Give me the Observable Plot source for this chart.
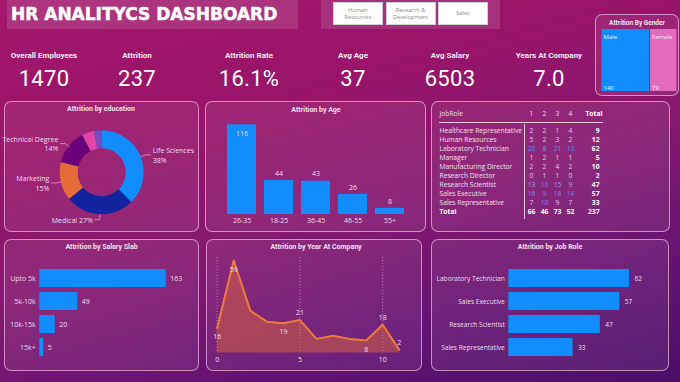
<!DOCTYPE html>
<html>
<head>
<meta charset="utf-8">
<script src="https://cdn.jsdelivr.net/npm/d3@7"></script>
<script src="https://cdn.jsdelivr.net/npm/@observablehq/plot@0.6"></script>
<style>
html,body{margin:0;padding:0;}
body{width:680px;height:382px;overflow:hidden;}
#dash{position:relative;width:680px;height:382px;overflow:hidden;
  background:linear-gradient(165deg,#a4166b 0%,#98146a 30%,#841870 55%,#651372 78%,#4a0e69 100%);
  font-family:Roboto,sans-serif;color:#fff;}
.abs{position:absolute;}
.panel{position:absolute;box-sizing:border-box;border:1px solid rgba(255,214,238,0.6);border-radius:7px;background:rgba(255,255,255,0.07);}
.ptitle{position:absolute;font-weight:bold;font-size:7px;font-family:Roboto,sans-serif;color:#f6e0ee;transform:translate(-50%,-50%);white-space:nowrap;}
.kl{position:absolute;font-weight:bold;font-size:8px;font-family:Roboto,sans-serif;color:#fbe9f4;transform:translate(-50%,-50%);white-space:nowrap;}
.kv{position:absolute;font-size:22px;font-family:Roboto,sans-serif;color:#fff;transform:translate(-50%,-50%);white-space:nowrap;letter-spacing:0.3px;}
.btn{position:absolute;box-sizing:border-box;background:#fff;border:1px solid #cfcfcf;color:#8a8a8a;font-family:'Open Sans',sans-serif;font-size:5.6px;line-height:7px;display:flex;align-items:center;justify-content:center;text-align:center;white-space:pre-line;}
.chart{position:absolute;}
.chart svg{display:block;overflow:visible;background:transparent !important;max-width:none !important;}
.hline{position:absolute;background:rgba(255,255,255,0.75);}
</style>
</head>
<body>
<div id="dash"></div>
<script>
// ---------------- DATA ----------------
const dashboardTitle = "HR ANALITYCS DASHBOARD";
const kpiLabels = ["Overall Employees", "Attrition", "Attrition Rate", "Avg Age", "Avg Salary", "Years At Company"];
const kpiValues = ["1470", "237", "16.1%", "37", "6503", "7.0"];
const departments = ["Human Resources", "Research & Development", "Sales"];

const genders = ["Male", "Female"];
const genderAttrition = [140, 79];

const eduFields = ["Life Sciences", "Medical", "Marketing", "Technical Degree", "Other", "Human Resources"];
const eduAttrition = [89, 63, 35, 32, 11, 7];

const ageGroups = ["26-35", "18-25", "36-45", "46-55", "55+"];
const ageAttrition = [116, 44, 43, 26, 8];

const jobRoles = ["Healthcare Representative", "Human Resources", "Laboratory Technician", "Manager",
  "Manufacturing Director", "Research Director", "Research Scientist", "Sales Executive", "Sales Representative"];
const satisfactionLevels = ["1", "2", "3", "4"];
const satisfaction1 = [2, 5, 20, 1, 2, 0, 13, 16, 7];
const satisfaction2 = [2, 2, 8, 2, 2, 1, 10, 9, 10];
const satisfaction3 = [1, 3, 21, 1, 4, 1, 15, 18, 9];
const satisfaction4 = [4, 2, 13, 1, 2, 0, 9, 14, 7];

const salarySlabs = ["Upto 5k", "5k-10k", "10k-15k", "15k+"];
const salaryAttrition = [163, 49, 20, 5];

const yearsAtCompany = [0, 1, 2, 3, 4, 5, 6, 7, 8, 9, 10, 11];
const yearAttrition = [16, 59, 27, 20, 19, 21, 9, 11, 9, 8, 18, 2];
const yearTicks = [0, 5, 10];
const yearsLabelledBelow = [0, 1, 4, 9];
const yearsLabelledAbove = [5, 10, 11];

const topJobRoles = ["Laboratory Technician", "Sales Executive", "Research Scientist", "Sales Representative"];
const topJobRoleAttrition = [62, 57, 47, 33];

// ---------------- STYLE ----------------
const BLUE = "#118DFF";
const eduColors = ["#118DFF", "#12239E", "#E66C37", "#6B007B", "#E044A7", "#744EC2"];
const genderColors = ["#118DFF", "#E36BBE"];
const labelColor = "#f2dfec";
const baseStyle = {background: "transparent", overflow: "visible", fontFamily: "'Open Sans', sans-serif", fontSize: "7px", color: labelColor};

const dash = document.getElementById("dash");
function el(cls, left, top, w, h, text) {
  const d = document.createElement("div");
  d.className = cls;
  d.style.left = left + "px"; d.style.top = top + "px";
  if (w != null) d.style.width = w + "px";
  if (h != null) d.style.height = h + "px";
  if (text != null) d.textContent = text;
  dash.appendChild(d);
  return d;
}
function chart(svg, left, top) {
  const d = el("chart", left, top);
  d.appendChild(svg);
  return d;
}

// ---------------- HEADER ----------------
const tbox = el("abs", 7, 0, 291, 29);
tbox.style.background = "rgba(255,255,255,0.13)";
const tt = el("abs", 11, 14, null, null, dashboardTitle);
Object.assign(tt.style, {fontFamily: "'DejaVu Sans',sans-serif", fontWeight: "bold", fontSize: "17px", transform: "translateY(-50%)", whiteSpace: "nowrap", color: "#fff", WebkitTextStroke: "0.5px #fff"});

const sbox = el("abs", 321, 0, 179, 29);
sbox.style.background = "rgba(255,255,255,0.12)";
departments.forEach((dname, i) => {
  el("btn", 333 + i * 52.5, 2, 50, 23, dname.includes(" ") ? dname.replace(/ (?=\S+$)/, "\n") : dname);
});

// KPIs
const kpiX = [44, 137, 249, 353, 450, 549];
kpiLabels.forEach((l, i) => {
  el("kl", kpiX[i], 55, null, null, l);
  el("kv", kpiX[i], 77.5, null, null, kpiValues[i]);
});

// Gender panel
el("panel", 595, 14, 84, 82);
el("ptitle", 637, 23, null, null, "Attrition By Gender").style.fontSize = "6.5px";
{
  const data = genders.map((g, i) => ({gender: g, value: genderAttrition[i]}));
  const total = d3.sum(genderAttrition);
  const svg = Plot.plot({
    width: 78, height: 64, marginTop: 1, marginBottom: 1, marginLeft: 0, marginRight: 0,
    style: {...baseStyle, fontSize: "6px"},
    x: {domain: [0, total], range: [1, 77], axis: null},
    color: {domain: genders, range: genderColors},
    marks: [
      Plot.barX(data, {x: "value", fill: "gender", insetLeft: 0.5, insetRight: 0.5}),
      Plot.text(data, Plot.stackX1({x: "value", text: "gender", frameAnchor: "top", lineAnchor: "top", textAnchor: "start", dx: 2, dy: 5, fill: "#eef4ff"})),
      Plot.text(data, Plot.stackX1({x: "value", text: d => String(d.value), frameAnchor: "bottom", lineAnchor: "bottom", textAnchor: "start", dx: 2, dy: -2, fill: "#eef4ff"}))
    ]
  });
  chart(svg, 600, 28);
}

// ---------------- PANELS ----------------
const panels = [
  [4, 101, 195, 131, "Attrition by education", 101, 109],
  [205, 101, 221, 131, "Attrition by Age", 316, 109.5],
  [431, 101, 239, 131, null],
  [4, 239, 195, 132, "Attrition by Salary Slab", 101.5, 247.3],
  [206, 239, 216, 132, "Attrition by Year At Company", 316, 247.3],
  [431, 239, 238, 132, "Attrition by Job Role", 550, 247.3]
];
panels.forEach(p => {
  el("panel", p[0], p[1], p[2], p[3]);
  if (p[4]) el("ptitle", p[5], p[6], null, null, p[4]);
});

// ---- Donut: Attrition by education ----
{
  const data = eduFields.map((f, i) => ({field: f, value: eduAttrition[i], color: eduColors[i]}));
  const total = d3.sum(eduAttrition);
  const arcs = d3.pie().value(d => d.value).sort(null)(data);
  const R0 = 24, R1 = 42;
  const arcGen = d3.arc().innerRadius(R0).outerRadius(R1);
  const leaders = [], labels = [];
  arcs.filter(a => a.data.value / total >= 0.1).forEach(a => {
    const mid = (a.startAngle + a.endAngle) / 2;
    const sx = Math.sin(mid), sy = -Math.cos(mid);
    const side = sx >= 0 ? 1 : -1;
    const ex = 47 * sx, ey = 47 * sy;
    const pct = Math.round(a.data.value / total * 100) + "%";
    const bottom = sy > 0.9;
    leaders.push({field: a.data.field, x: R1 * sx, y: R1 * sy});
    leaders.push({field: a.data.field, x: ex, y: ey});
    leaders.push({field: a.data.field, x: ex + side * 5, y: ey});
    labels.push({side, x: ex + side * 7, y: ey, text: bottom ? `${a.data.field} ${pct}` : `${a.data.field}\n${pct}`});
  });
  const W = 193, H = 115, cx = 97.7, cy = 57.3;
  const donutMark = (index, scales) => {
    const g = d3.create("svg:g").attr("transform", `translate(${scales.x(0)},${scales.y(0)})`);
    g.selectAll("path").data(arcs).join("path").attr("d", arcGen).attr("fill", d => d.data.color);
    return g.node();
  };
  const svg = Plot.plot({
    width: W, height: H, margin: 0, style: {...baseStyle, fontSize: "7px"},
    x: {domain: [-cx, W - cx], range: [0, W], axis: null},
    y: {domain: [-cy, H - cy], range: [0, H], axis: null},
    marks: [
      donutMark,
      Plot.line(leaders, {x: "x", y: "y", z: "field", stroke: "#e9c9dd", strokeWidth: 0.6}),
      Plot.text(labels.filter(d => d.side > 0), {x: "x", y: "y", text: "text", textAnchor: "start", fill: labelColor, lineHeight: 1.35}),
      Plot.text(labels.filter(d => d.side < 0), {x: "x", y: "y", text: "text", textAnchor: "end", fill: labelColor, lineHeight: 1.35})
    ]
  });
  chart(svg, 4, 115);
}

// ---- Attrition by Age ----
{
  const data = ageGroups.map((g, i) => ({group: g, value: ageAttrition[i]}));
  const maxV = d3.max(ageAttrition);
  const svg = Plot.plot({
    width: 217, height: 115, marginTop: 0, marginBottom: 16, marginLeft: 0, marginRight: 0,
    style: baseStyle,
    x: {domain: ageGroups, range: [21, 200], paddingInner: 0.22, paddingOuter: 0, label: null},
    y: {domain: [0, maxV], range: [99, 9.3], axis: null},
    marks: [
      Plot.barY(data, {x: "group", y: "value", fill: BLUE}),
      Plot.text(data.filter(d => d.value === maxV), {x: "group", y: "value", text: "value", dy: 9, fill: labelColor}),
      Plot.text(data.filter(d => d.value !== maxV), {x: "group", y: "value", text: "value", dy: -7, fill: labelColor}),
      Plot.axisX({tickSize: 0, tickPadding: 4, fill: labelColor, label: null})
    ]
  });
  chart(svg, 205, 115);
}

// ---- Table: JobRole x satisfaction ----
{
  const cols = [satisfaction1, satisfaction2, satisfaction3, satisfaction4];
  const colMax = cols.map(c => d3.max(c));
  const cells = [];
  jobRoles.forEach((r, i) => cols.forEach((c, j) => cells.push({role: r, col: satisfactionLevels[j], value: c[i], t: c[i] / colMax[j]})));
  const rowTotals = jobRoles.map((r, i) => ({role: r, value: d3.sum(cols, c => c[i])}));
  const colTotals = satisfactionLevels.map((s, j) => ({col: s, value: d3.sum(cols[j])}));
  const grand = d3.sum(rowTotals, d => d.value);
  const light = "#ddd0e4", blue = "#6f86f2";
  const cellColor = t => t < 0.55 ? light : d3.interpolateRgb("#a9b4f0", blue)(Math.min(1, (t - 0.55) / 0.35));
  const rowDomain = [...jobRoles, "Total"];
  const colDomain = [...satisfactionLevels, "Total"];
  const svg = Plot.plot({
    width: 240, height: 122, marginTop: 8, marginLeft: 0, marginRight: 0, marginBottom: 0,
    style: {...baseStyle, fontSize: "6.7px"},
    x: {type: "point", domain: colDomain, range: [97, 152], padding: 0, axis: null},
    y: {type: "point", domain: rowDomain, range: [23, 108.5], padding: 0, axis: null},
    color: {type: "identity"},
    marks: [
      Plot.text(["JobRole"], {text: d => d, frameAnchor: "top-left", lineAnchor: "middle", textAnchor: "start", dx: 7, fill: labelColor}),
      Plot.text(satisfactionLevels, {x: d => d, text: d => d, frameAnchor: "top", lineAnchor: "middle", fill: labelColor}),
      Plot.text(["Total"], {x: d => d, text: d => d, frameAnchor: "top", lineAnchor: "middle", textAnchor: "end", dx: 19, fill: "#fff", fontWeight: "bold"}),
      Plot.text(jobRoles, {y: d => d, text: d => d, frameAnchor: "left", textAnchor: "start", dx: 7, fill: "#efe2ee"}),
      Plot.text(["Total"], {y: d => d, text: d => d, frameAnchor: "left", textAnchor: "start", dx: 7, fill: "#fff", fontWeight: "bold"}),
      Plot.text(cells, {x: "col", y: "role", text: "value", fill: d => cellColor(d.t)}),
      Plot.text(rowTotals, {x: () => "Total", y: "role", text: "value", textAnchor: "end", dx: 16, fill: "#fff", fontWeight: "bold"}),
      Plot.text(colTotals, {x: "col", y: () => "Total", text: "value", fill: "#fff", fontWeight: "bold"}),
      Plot.text([grand], {x: () => "Total", y: () => "Total", text: d => d, textAnchor: "end", dx: 16, fill: "#fff", fontWeight: "bold"})
    ]
  });
  chart(svg, 432, 105);
  el("hline", 439, 122, 164, 1);
  el("hline", 524, 124, 1, 95);
}

// ---- Attrition by Salary Slab ----
{
  const data = salarySlabs.map((s, i) => ({slab: s, value: salaryAttrition[i]}));
  const svg = Plot.plot({
    width: 193, height: 110, marginLeft: 35.3, marginRight: 0, marginTop: 0, marginBottom: 0,
    style: baseStyle,
    x: {domain: [0, d3.max(salaryAttrition)], range: [35.3, 161.7], axis: null},
    y: {domain: salarySlabs, range: [13, 101], paddingInner: 0.23, paddingOuter: 0, label: null},
    marks: [
      Plot.barX(data, {x: "value", y: "slab", fill: BLUE}),
      Plot.text(data, {x: "value", y: "slab", text: "value", textAnchor: "start", dx: 4, fill: labelColor}),
      Plot.axisY({tickSize: 0, tickPadding: 4, fill: labelColor, label: null})
    ]
  });
  chart(svg, 4, 255);
}

// ---- Attrition by Year At Company ----
{
  const data = yearsAtCompany.map((y, i) => ({year: y, value: yearAttrition[i]}));
  const svg = Plot.plot({
    width: 216, height: 118, marginTop: 7, marginBottom: 15.5, marginLeft: 0, marginRight: 0,
    style: baseStyle,
    x: {domain: [0, 11], range: [10.7, 10.7 + 11 * 16.55], label: null},
    y: {domain: [0, d3.max(yearAttrition)], range: [102.5, 10], axis: null},
    marks: [
      Plot.gridX(yearTicks, {stroke: "#f3c6e4", strokeOpacity: 0.55, strokeDasharray: "1,2"}),
      Plot.areaY(data, {x: "year", y: "value", fill: "#E66C37", fillOpacity: 0.45}),
      Plot.lineY(data, {x: "year", y: "value", stroke: "#EF7A3A", strokeWidth: 2}),
      Plot.text(data.filter(d => yearsLabelledBelow.includes(d.year)), {x: "year", y: "value", text: "value", dy: 9, fill: labelColor}),
      Plot.text(data.filter(d => yearsLabelledAbove.includes(d.year)), {x: "year", y: "value", text: "value", dy: -7, fill: labelColor}),
      Plot.axisX(yearTicks, {tickSize: 0, tickPadding: 4, fill: labelColor, label: null})
    ]
  });
  chart(svg, 206, 250);
}

// ---- Attrition by Job Role ----
{
  const data = topJobRoles.map((r, i) => ({role: r, value: topJobRoleAttrition[i]}));
  const svg = Plot.plot({
    width: 238, height: 110, marginLeft: 77.3, marginRight: 0, marginTop: 0, marginBottom: 0,
    style: {...baseStyle, fontSize: "6.6px"},
    x: {domain: [0, d3.max(topJobRoleAttrition)], range: [77.3, 198], axis: null},
    y: {domain: topJobRoles, range: [13, 101], paddingInner: 0.23, paddingOuter: 0, label: null},
    marks: [
      Plot.barX(data, {x: "value", y: "role", fill: BLUE}),
      Plot.text(data, {x: "value", y: "role", text: "value", textAnchor: "start", dx: 5, fill: labelColor}),
      Plot.axisY({tickSize: 0, tickPadding: 4, fill: labelColor, label: null})
    ]
  });
  chart(svg, 431, 255);
}
</script>
</body>
</html>
